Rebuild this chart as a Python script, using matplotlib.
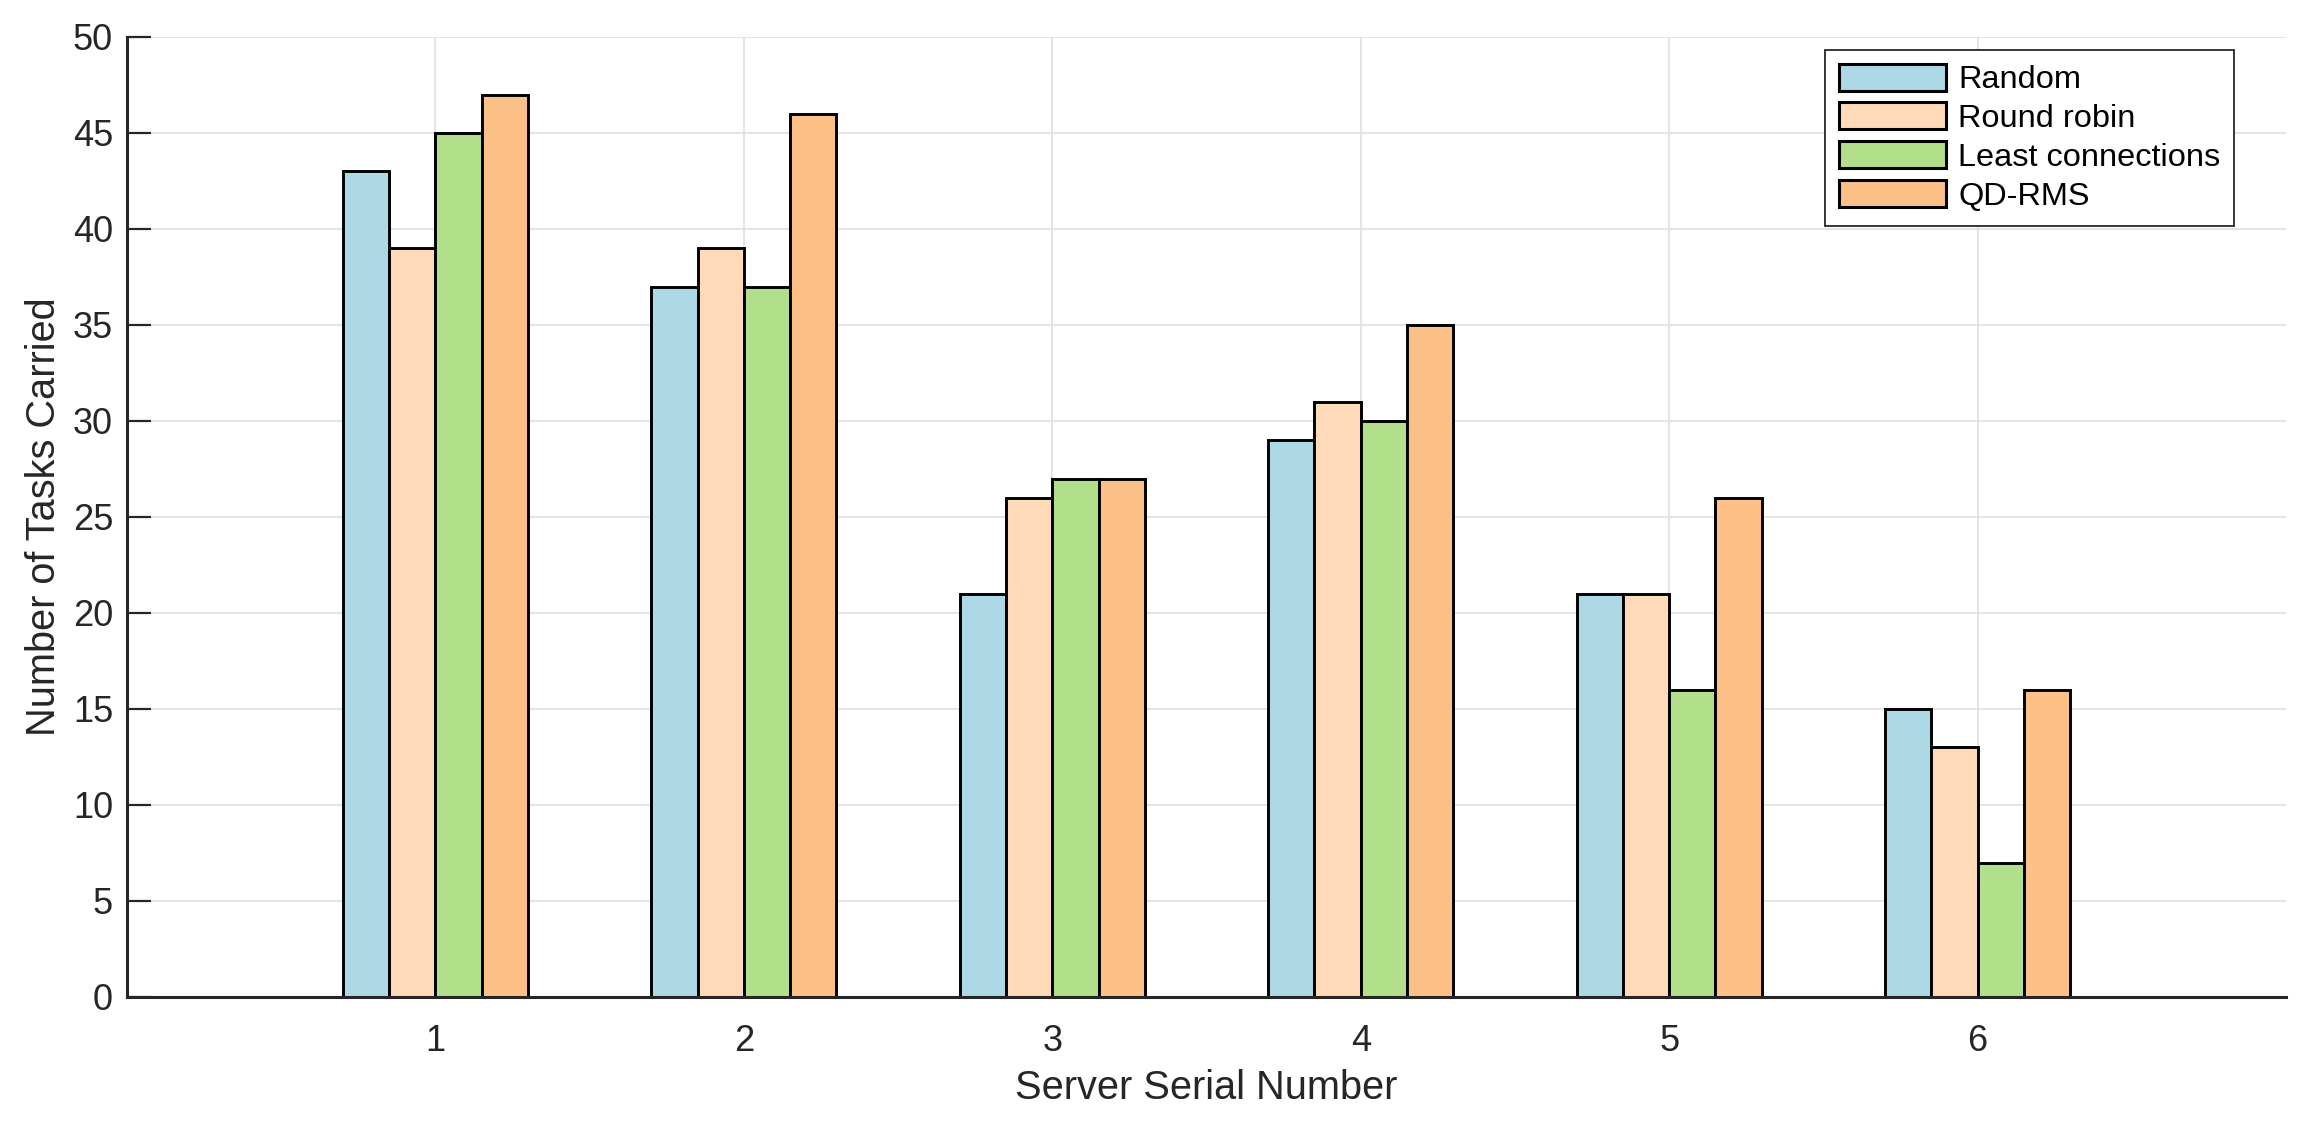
import numpy as np
import matplotlib
matplotlib.use("Agg")
import matplotlib.pyplot as plt

servers = [1, 2, 3, 4, 5, 6]
series_names = ["Random", "Round robin", "Least connections", "QD-RMS"]
random_vals = [43, 37, 21, 29, 21, 15]
round_robin_vals = [39, 39, 26, 31, 21, 13]
least_conn_vals = [45, 37, 27, 30, 16, 7]
qdrms_vals = [47, 46, 27, 35, 26, 16]
y_ticks = [0, 5, 10, 15, 20, 25, 30, 35, 40, 45, 50]

colors = ["#ADD8E6", "#FFDAB9", "#B2DF8A", "#FDC086"]
all_vals = [random_vals, round_robin_vals, least_conn_vals, qdrms_vals]

plt.rcParams['font.family'] = ['Liberation Sans', 'DejaVu Sans']
dark = "#262626"

fig = plt.figure(figsize=(23.17, 11.24), dpi=100)
ax = fig.add_axes([127/2317, 1-997/1124, (2286-127)/2317, (997-37)/1124])

bw = 0.15
x = np.array(servers, dtype=float)
for i, (vals, c, name) in enumerate(zip(all_vals, colors, series_names)):
    offs = (i - 1.5) * bw
    ax.bar(x + offs, vals, width=bw, color=c, edgecolor="black",
           linewidth=2.1, label=name, zorder=2)

ax.set_xlim(0, 7)
ax.set_ylim(0, 50)
ax.set_xticks(servers)
ax.set_yticks(y_ticks)
ax.set_axisbelow(True)
ax.grid(True, color="#dfdfdf", linewidth=1.2)

for s in ["top", "right"]:
    ax.spines[s].set_visible(False)
for s in ["left", "bottom"]:
    ax.spines[s].set_color(dark)
    ax.spines[s].set_linewidth(2.2)

ax.tick_params(axis="both", direction="in", length=17, width=1.6, color=dark,
               labelcolor=dark, labelsize=26)
ax.tick_params(axis="y", pad=10)
ax.tick_params(axis="x", pad=19.5)

ax.set_xlabel("Server Serial Number", fontsize=28.6, color=dark, labelpad=7)
ax.set_ylabel("Number of Tasks Carried", fontsize=28.6, color=dark, labelpad=7)

leg = ax.legend(loc="upper right", bbox_to_anchor=(2234/2317, 1-50/1124),
                bbox_transform=fig.transFigure, borderaxespad=0,
                fontsize=23.4, frameon=True, fancybox=False,
                handlelength=3.3, handleheight=0.9, handletextpad=0.37,
                labelspacing=0.22, borderpad=0.42)
leg.get_frame().set_edgecolor(dark)
leg.get_frame().set_linewidth(1.3)
leg.get_frame().set_alpha(1)
for h in leg.legend_handles:
    h.set_linewidth(2.2)

fig.savefig("out.png", dpi=100)
